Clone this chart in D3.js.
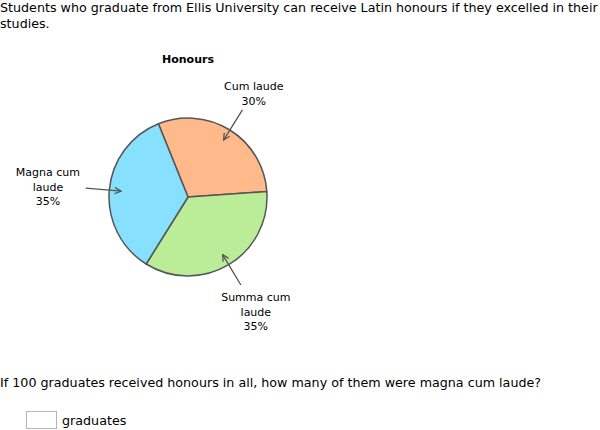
<!DOCTYPE html>
<html>
<head>
<meta charset="utf-8">
<script src="https://cdn.jsdelivr.net/npm/d3@7"></script>
<style>
  body { margin: 0; background: #fff; }
  svg { display: block; }
  text { font-family: "DejaVu Sans", Verdana, sans-serif; fill: #000; }
</style>
</head>
<body>
<div id="chart"></div>
<script>
// Chart data
const categories = ["Cum laude", "Summa cum laude", "Magna cum laude"];
const percents = [30, 35, 35];
const sliceColors = ["#ffb98a", "#bbed98", "#87e0fd"];
const chartTitle = "Honours";
const introLines = [
  "Students who graduate from Ellis University can receive Latin honours if they excelled in their",
  "studies."
];
const questionText = "If 100 graduates received honours in all, how many of them were magna cum laude?";
const answerUnit = "graduates";

const width = 600;
const height = 430;
const cx = 188, cy = 197, radius = 79;
const bodyFont = "12.7px";

const svg = d3.select("#chart")
  .append("svg")
  .attr("width", width)
  .attr("height", height);

// Intro text
svg.selectAll(".intro")
  .data(introLines)
  .enter()
  .append("text")
  .attr("class", "intro")
  .attr("x", 0)
  .attr("y", 12)
  .attr("dy", (d, i) => i * 16)
  .style("font-size", bodyFont)
  .text(d => d);

svg.append("text")
  .attr("x", cx)
  .attr("y", 63)
  .attr("text-anchor", "middle")
  .style("font-size", "11px")
  .style("font-weight", "bold")
  .text(chartTitle);

// Pie
const startAngle = -22 * Math.PI / 180;
const pie = d3.pie()
  .sort(null)
  .value(d => d)
  .startAngle(startAngle)
  .endAngle(startAngle + 2 * Math.PI);

const arcs = pie(percents);
const arc = d3.arc().innerRadius(0).outerRadius(radius);

const g = svg.append("g").attr("transform", `translate(${cx},${cy})`);

g.selectAll(".slice")
  .data(arcs)
  .enter()
  .append("path")
  .attr("class", "slice")
  .attr("d", arc)
  .style("fill", (d, i) => sliceColors[i])
  .style("stroke", "#555")
  .style("stroke-width", 1.5)
  .style("stroke-linejoin", "round");

// Arrow marker
svg.append("defs").append("marker")
  .attr("id", "arrow")
  .attr("viewBox", "0 0 10 10")
  .attr("refX", 9)
  .attr("refY", 5)
  .attr("markerWidth", 8)
  .attr("markerHeight", 8)
  .attr("markerUnits", "userSpaceOnUse")
  .attr("orient", "auto")
  .append("path")
  .attr("d", "M1,1 L9,5 L1,9")
  .style("fill", "none")
  .style("stroke", "#555")
  .style("stroke-width", 1.6);

const polar = (r, a) => [r * Math.sin(a), -r * Math.cos(a)];

arcs.forEach((d, i) => {
  const mid = (d.startAngle + d.endAngle) / 2;
  const p0 = polar(radius * 1.3, mid);
  const p1 = polar(radius * 0.85, mid);

  g.append("line")
    .attr("x1", p0[0]).attr("y1", p0[1])
    .attr("x2", p1[0]).attr("y2", p1[1])
    .style("stroke", "#555")
    .style("stroke-width", 1.3)
    .attr("marker-end", "url(#arrow)");

  // label: wrap words to 72px
  const label = g.append("text")
    .attr("text-anchor", "middle")
    .style("font-size", "11px");

  const words = categories[i].split(" ");
  const lines = [];
  let cur = "";
  const probe = g.append("text").style("font-size", "11px");
  words.forEach(w => {
    const test = cur ? cur + " " + w : w;
    probe.text(test);
    if (probe.node().getComputedTextLength() > 72 && cur) {
      lines.push(cur);
      cur = w;
    } else {
      cur = test;
    }
  });
  lines.push(cur);
  lines.push(d.data + "%");
  probe.remove();

  const lineH = 14.5;
  lines.forEach((t, j) => {
    label.append("tspan").attr("x", 0).attr("dy", j === 0 ? 0 : lineH).text(t);
  });

  const bb = label.node().getBBox();
  const halfW = bb.width / 2, halfH = bb.height / 2;
  const ux = Math.sin(mid), uy = -Math.cos(mid);
  const ext = 1 / Math.sqrt((ux / halfW) ** 2 + (uy / halfH) ** 2);
  const dist = radius * 1.3 + ext + 6;
  const lx = ux * dist, ly = uy * dist + 2.5;
  // shift so bbox centre sits on (lx, ly)
  const bcx = bb.x + halfW, bcy = bb.y + halfH;
  label.attr("transform", `translate(${lx - bcx},${ly - bcy})`);
});

// Question
svg.append("text")
  .attr("x", 0)
  .attr("y", 387)
  .style("font-size", bodyFont)
  .text(questionText);

svg.append("rect")
  .attr("x", 26.5)
  .attr("y", 411.5)
  .attr("width", 30)
  .attr("height", 17)
  .style("fill", "#fff")
  .style("stroke", "#b5b5b5");

svg.append("text")
  .attr("x", 62)
  .attr("y", 425)
  .style("font-size", bodyFont)
  .text(answerUnit);
</script>
</body>
</html>
